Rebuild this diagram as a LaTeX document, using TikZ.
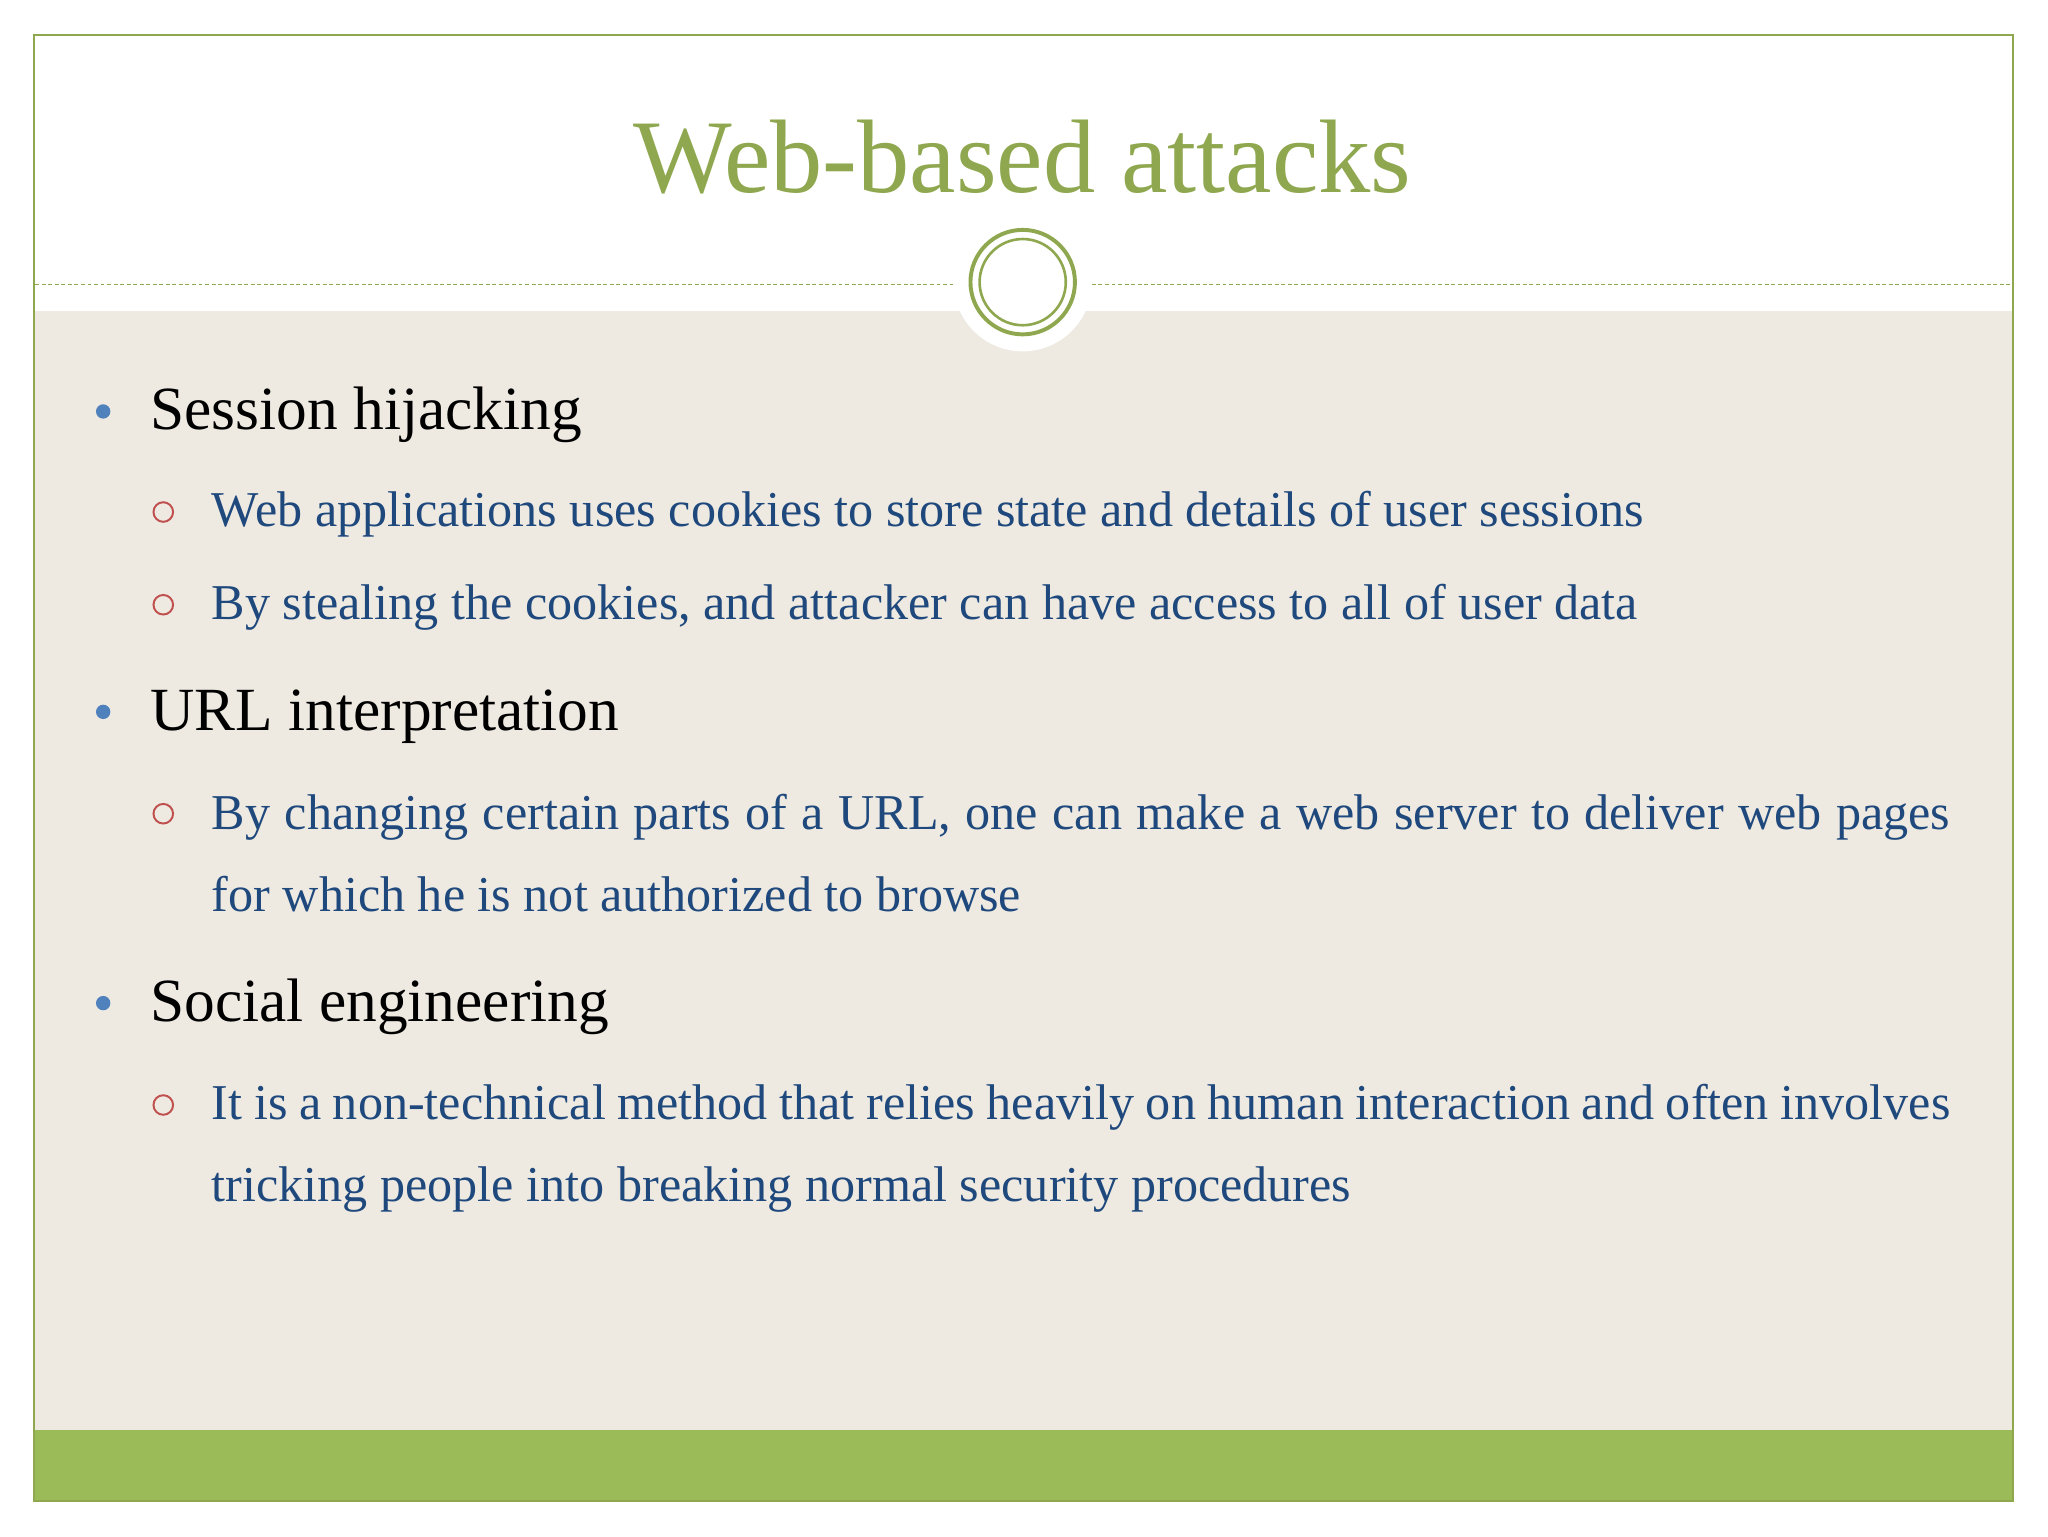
\documentclass[tikz,border=0pt]{standalone}
\usepackage{fontspec}
\setmainfont{Liberation Serif}
\definecolor{olive}{HTML}{8FA84F}
\definecolor{bar}{HTML}{9BBB59}
\definecolor{beige}{HTML}{EEEAE2}
\definecolor{tblue}{HTML}{1F497D}
\definecolor{dot}{HTML}{4F81BD}
\definecolor{ring}{HTML}{C0504D}
\tikzset{
 lone/.style={anchor=base west,inner sep=0pt,font=\fontsize{47}{52}\selectfont,text=black},
 ltwo/.style={anchor=base west,inner sep=0pt,font=\fontsize{38.4}{63}\selectfont,text=tblue},
 ltwop/.style={ltwo,text width=1331pt,align=justify},
 bdot/.style={circle,fill=dot,minimum size=11pt,inner sep=0pt},
 bring/.style={circle,draw=ring,line width=1.5pt,minimum size=15pt,inner sep=0pt}
}
\begin{document}
\begin{tikzpicture}[x=1pt,y=-1pt]
\useasboundingbox (0,0) rectangle (1568,1176);
\fill[white] (0,0) rectangle (1568,1176);
\fill[beige] (27,238) rectangle (1541,1095);
\fill[bar] (27,1095) rectangle (1541,1149);
\draw[olive,line width=1.5pt] (26,27) rectangle (1541,1149);
\draw[olive,dash pattern=on 3pt off 2pt,line width=1pt] (27,218) -- (730,218);
\draw[olive,dash pattern=on 3pt off 2pt,line width=1pt] (836,218) -- (1540,218);
\fill[white] (783,216) circle (53);
\draw[olive,line width=3pt] (783,216) circle (40);
\draw[olive,line width=2pt] (783,216) circle (33);
\node[font=\fontsize{80}{88}\selectfont,text=olive] (title) at (783,120) {Web-based attacks};
\node[bdot] (d1) at (79,315) {};
\node[lone] (t1) at (115,329) {Session hijacking};
\node[bring] (r1) at (125,392) {};
\node[ltwo] (s1) at (162,403) {Web applications uses cookies to store state and details of user sessions};
\node[bring] (r2) at (125,463) {};
\node[ltwo] (s2) at (162,474) {By stealing the cookies, and attacker can have access to all of user data};
\node[bdot] (d2) at (79,545) {};
\node[lone] (t2) at (115,559) {URL interpretation};
\node[bring] (r3) at (125,623) {};
\node[ltwop] (s3) at (162,635) {By changing certain parts of a URL, one can make a web server to deliver web pages for which he is not authorized to browse};
\node[bdot] (d3) at (79,768) {};
\node[lone] (t3) at (115,782) {Social engineering};
\node[bring] (r4) at (125,846) {};
\node[ltwop] (s4) at (162,857) {It is a non-technical method that relies heavily on human interaction and often involves tricking people into breaking normal security procedures};
\end{tikzpicture}
\end{document}
